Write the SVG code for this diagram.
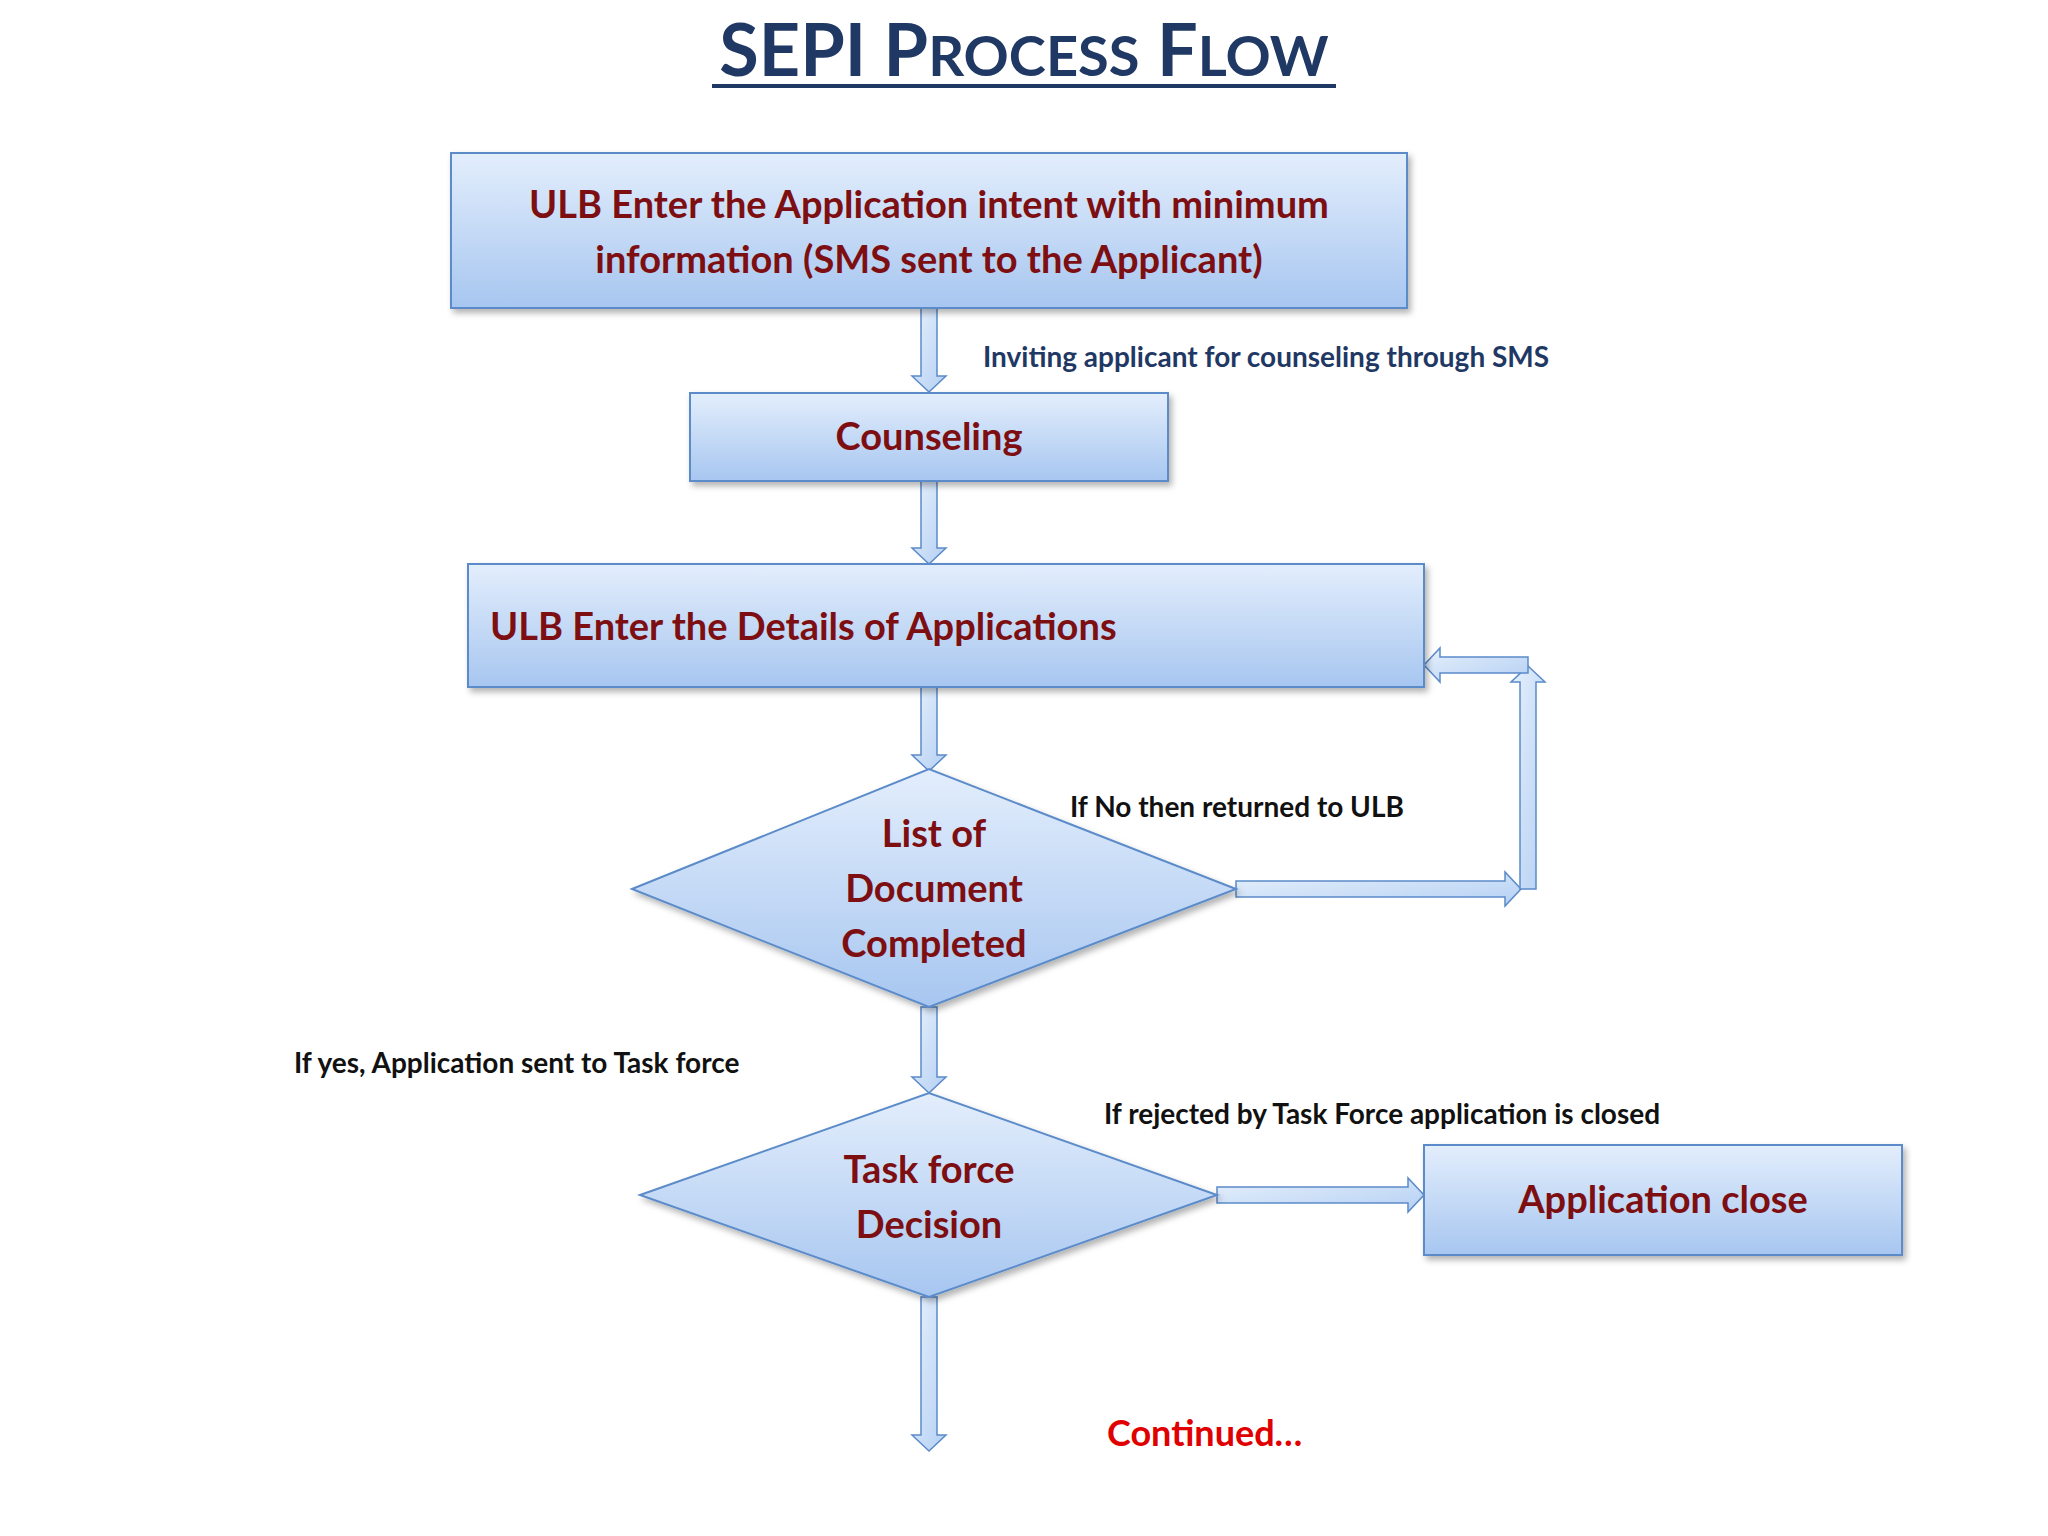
<svg xmlns="http://www.w3.org/2000/svg" width="2048" height="1536" viewBox="0 0 2048 1536">
<defs>
<linearGradient id="g" x1="0" y1="0" x2="0" y2="1"><stop offset="0" stop-color="#e3eefc"/><stop offset="1" stop-color="#a7c6f0"/></linearGradient>
<linearGradient id="ga" x1="0" y1="0" x2="1" y2="1"><stop offset="0" stop-color="#e6f0fc"/><stop offset="1" stop-color="#b5d0f3"/></linearGradient>
<filter id="sh" x="-5%" y="-5%" width="112%" height="120%"><feDropShadow dx="3" dy="4" stdDeviation="3" flood-color="#000" flood-opacity="0.3"/></filter>
</defs>
<style>
.n{fill:url(#g);stroke:#5b8bc9;stroke-width:2;filter:url(#sh)}
.a{fill:url(#ga);stroke:#5b8bc9;stroke-width:1.5}
.t{font-family:Lato,"Open Sans",sans-serif;font-weight:bold;fill:#7d0f12;font-size:38px;text-anchor:middle}
.l{font-family:Lato,"Open Sans",sans-serif;font-weight:bold;fill:#111;font-size:28px}
</style>
<rect width="2048" height="1536" fill="#fff"/>
<g id="title" font-family="Lato,'Open Sans',sans-serif" font-weight="bold" fill="#1f3864" text-anchor="middle">
<text x="1024" y="76" font-size="72">SEPI P<tspan font-size="56">ROCESS</tspan> F<tspan font-size="56">LOW</tspan></text>
<rect x="712" y="84" width="624" height="4" fill="#1f3864"/>
</g>
<g id="connectors">
<path class="a" d="M921,308 L937,308 L937,376 L946,376 L929,392 L912,376 L921,376Z"/>
<path class="a" d="M921,481 L937,481 L937,548 L946,548 L929,564 L912,548 L921,548Z"/>
<path class="a" d="M921,687 L937,687 L937,755 L946,755 L929,771 L912,755 L921,755Z"/>
<path class="a" d="M921,1007 L937,1007 L937,1077 L946,1077 L929,1093 L912,1077 L921,1077Z"/>
<path class="a" d="M921,1297 L937,1297 L937,1435 L946,1435 L929,1451 L912,1435 L921,1435Z"/>
<path class="a" d="M1236,881 L1505,881 L1505,872 L1521,889 L1505,906 L1505,897 L1236,897Z"/>
<path class="a" d="M1520,889 L1520,682 L1511,682 L1528,666 L1545,682 L1536,682 L1536,889Z"/>
<path class="a" d="M1528,657 L1440,657 L1440,648 L1424,665 L1440,682 L1440,673 L1528,673Z"/>
<path class="a" d="M1217,1187 L1408,1187 L1408,1178 L1424,1195 L1408,1212 L1408,1203 L1217,1203Z"/>
<text class="l" x="983" y="367" fill="#1f3864" style="fill:#1f3864">Inviting applicant for counseling through SMS</text>
<text class="l" x="1070" y="817">If No then returned to ULB</text>
<text class="l" x="294" y="1073">If yes, Application sent to Task force</text>
<text class="l" x="1104" y="1124">If rejected by Task Force application is closed</text>
</g>
<g id="n1"><rect class="n" x="451" y="153" width="956" height="155"/>
<text class="t" x="929" y="218">ULB Enter the Application intent with minimum</text>
<text class="t" x="929" y="273">information (SMS sent to the Applicant)</text></g>
<g id="n2"><rect class="n" x="690" y="393" width="478" height="88"/>
<text class="t" x="929" y="450">Counseling</text></g>
<g id="n3"><rect class="n" x="468" y="564" width="956" height="123"/>
<text class="t" x="490" y="640" style="text-anchor:start">ULB Enter the Details of Applications</text></g>
<g id="n4"><polygon class="n" points="632,889 929,769 1236,889 929,1007"/>
<text class="t" x="934" y="847">List of</text><text class="t" x="934" y="902">Document</text><text class="t" x="934" y="957">Completed</text></g>
<g id="n5"><polygon class="n" points="640,1195 929,1093 1217,1195 929,1297"/>
<text class="t" x="929" y="1183">Task force</text><text class="t" x="929" y="1238">Decision</text></g>
<g id="n6"><rect class="n" x="1424" y="1145" width="478" height="110"/>
<text class="t" x="1663" y="1213">Application close</text></g>
<text x="1107" y="1446" font-family="Lato,'Open Sans',sans-serif" font-weight="bold" font-size="36" fill="#e00000">Continued…</text>
</svg>
